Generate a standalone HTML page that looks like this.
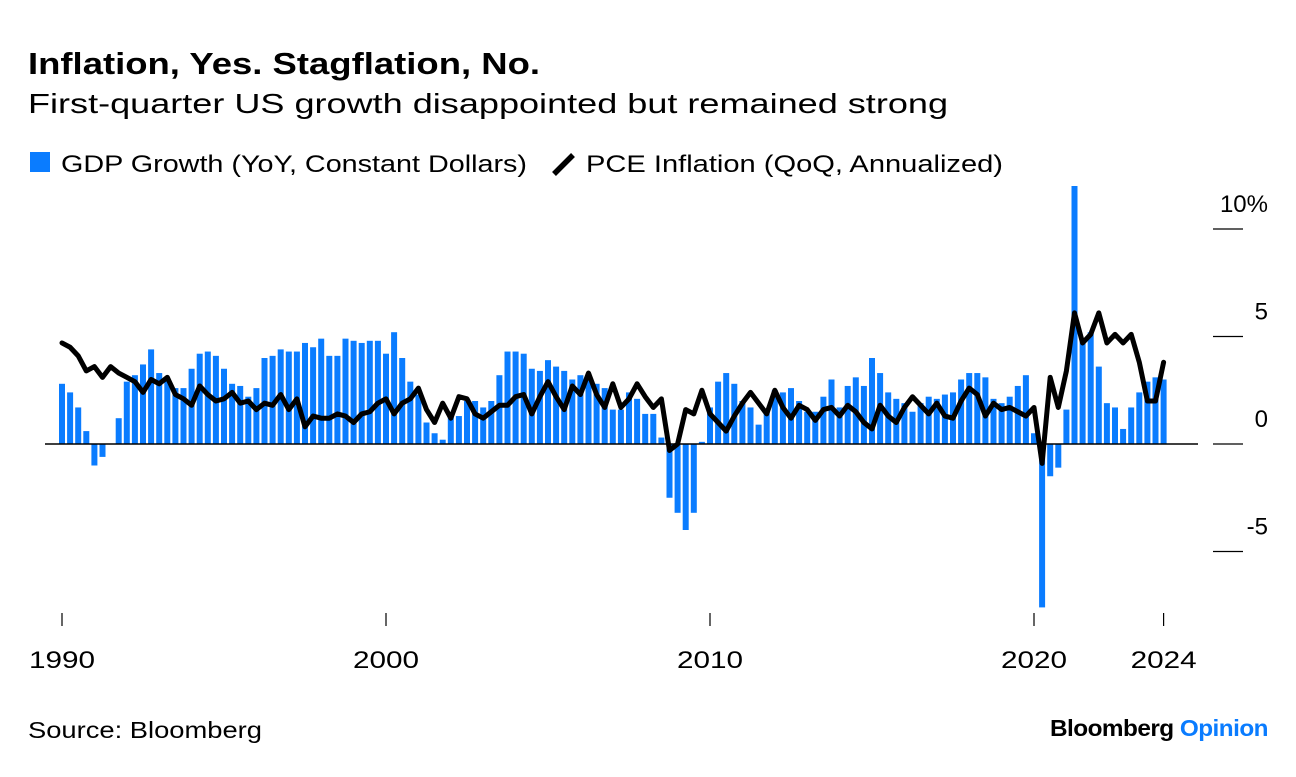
<!DOCTYPE html>
<html><head><meta charset="utf-8"><style>
body{margin:0;background:#fff;width:1296px;height:772px;overflow:hidden;font-family:"Liberation Sans",Arial,sans-serif;}
</style></head><body>
<svg width="1296" height="772" xmlns="http://www.w3.org/2000/svg">
<text x="28" y="74" font-size="31" font-weight="bold" fill="#000" textLength="512" lengthAdjust="spacingAndGlyphs">Inflation, Yes. Stagflation, No.</text>
<text x="28" y="113" font-size="28" fill="#000" textLength="920" lengthAdjust="spacingAndGlyphs">First-quarter US growth disappointed but remained strong</text>
<g>
<rect x="30" y="152" width="20" height="20" fill="#0a7cff"/>
<text x="61" y="172" font-size="24" textLength="466" lengthAdjust="spacingAndGlyphs">GDP Growth (YoY, Constant Dollars)</text>
<line x1="554" y1="174" x2="573" y2="155" stroke="#000" stroke-width="5.5"/>
<text x="586" y="172" font-size="24" textLength="417" lengthAdjust="spacingAndGlyphs">PCE Inflation (QoQ, Annualized)</text>
</g>
<g id="plot"></g>
<text x="28" y="738" font-size="23" textLength="234" lengthAdjust="spacingAndGlyphs">Source: Bloomberg</text>
<text x="1050" y="736" font-size="23" font-weight="bold" textLength="218" lengthAdjust="spacingAndGlyphs" letter-spacing="-0.5">Bloomberg <tspan fill="#0a7cff">Opinion</tspan></text>
</svg>
<script>
const gdp=[2.8,2.4,1.7,0.6,-1.0,-0.6,0.0,1.2,2.9,3.2,3.7,4.4,3.3,3.0,2.6,2.6,3.5,4.2,4.3,4.1,3.5,2.8,2.7,2.2,2.6,4.0,4.1,4.4,4.3,4.3,4.7,4.5,4.9,4.1,4.1,4.9,4.8,4.7,4.8,4.8,4.2,5.2,4.0,2.9,2.3,1.0,0.5,0.2,1.3,1.3,2.0,2.0,1.7,2.0,3.2,4.3,4.3,4.2,3.5,3.4,3.9,3.6,3.4,3.0,3.2,3.0,2.8,2.6,1.6,1.6,2.4,2.1,1.4,1.4,0.3,-2.5,-3.2,-4.0,-3.2,0.1,1.7,2.9,3.3,2.8,2.0,1.7,0.9,1.6,2.5,2.4,2.6,2.0,1.5,1.5,2.2,3.0,1.7,2.7,3.1,2.7,4.0,3.3,2.4,2.1,1.9,1.5,1.9,2.2,2.1,2.3,2.4,3.0,3.3,3.3,3.1,2.1,1.9,2.2,2.7,3.2,0.5,-7.6,-1.5,-1.1,1.6,12.0,4.8,5.2,3.6,1.9,1.7,0.7,1.7,2.4,2.9,3.1,3.0];
const pce=[4.7,4.5,4.1,3.4,3.6,3.1,3.6,3.3,3.1,2.9,2.4,3.0,2.8,3.1,2.3,2.1,1.8,2.7,2.3,2.0,2.1,2.4,1.9,2.0,1.6,1.9,1.8,2.3,1.6,2.1,0.8,1.3,1.2,1.2,1.4,1.3,1.0,1.4,1.5,1.9,2.1,1.4,1.9,2.1,2.6,1.6,1.0,1.9,1.2,2.2,2.1,1.4,1.2,1.5,1.8,1.8,2.2,2.3,1.4,2.2,2.9,2.2,1.6,2.7,2.3,3.3,2.3,1.7,2.8,1.7,2.1,2.8,2.2,1.7,2.1,-0.3,0.0,1.6,1.4,2.5,1.4,1.0,0.6,1.3,1.9,2.4,1.9,1.4,2.5,1.7,1.2,1.8,1.6,1.1,1.6,1.7,1.3,1.8,1.5,1.0,0.7,1.8,1.3,1.0,1.7,2.2,1.8,1.4,1.9,1.3,1.2,2.0,2.6,2.3,1.3,1.9,1.6,1.7,1.5,1.3,1.7,-0.9,3.1,1.7,3.4,6.1,4.7,5.1,6.1,4.7,5.1,4.7,5.1,3.8,2.0,2.0,3.8];
const yTicks=[10,5,0,-5];
const yTickLabels=["10%","5","0","-5"];
const xTicks=[1990,2000,2010,2020,2024];
const startYear=1990;
const NS="http://www.w3.org/2000/svg";
const plot=document.getElementById('plot');
const xOfYear=y=>62+(y-1990)*32.4;
const xOfIdx=i=>xOfYear(startYear+i/4);
const yOf=v=>444-v*21.5;
function mk(t,a){const e=document.createElementNS(NS,t);for(const k in a)e.setAttribute(k,a[k]);plot.appendChild(e);return e;}
gdp.forEach((v,i)=>{
  const r=mk('rect',{x:xOfIdx(i)-3,y:Math.min(yOf(v),yOf(0)),width:6,height:Math.abs(yOf(v)-yOf(0)),fill:'#0a7cff'});
  
  
});
const zl=mk('line',{x1:45,x2:1198,y1:yOf(0),y2:yOf(0),stroke:'#000','stroke-width':1.5});


const pl=mk('polyline',{points:pce.map((v,i)=>xOfIdx(i)+','+yOf(v)).join(' '),fill:'none',stroke:'#000','stroke-width':5,'stroke-linejoin':'round','stroke-linecap':'round'});


yTicks.forEach((v,i)=>{
  const l=mk('line',{x1:1213,x2:1243,y1:yOf(v),y2:yOf(v),stroke:'#000','stroke-width':1.2});
  
  
  const t=mk('text',{x:1268,y:yOf(v)-17,'font-size':24,'text-anchor':'end'});
  t.textContent=yTickLabels[i];
  
  
});
xTicks.forEach(y=>{
  const x=xOfYear(y);
  const l=mk('line',{x1:x,x2:x,y1:613,y2:626,stroke:'#000','stroke-width':1.2});
  
  
  const t=mk('text',{x:x-33,y:668,'font-size':24,textLength:66,lengthAdjust:'spacingAndGlyphs'});
  t.textContent=y;
  
  
});
</script>
</body></html>
